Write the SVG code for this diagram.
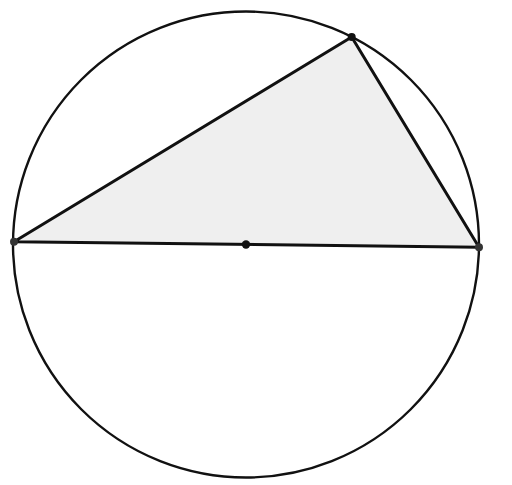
<svg xmlns="http://www.w3.org/2000/svg" width="512" height="485" viewBox="0 0 512 485">
<style>
.c{fill:none;stroke:#111;stroke-width:2.4}
.t{fill:#efefef;stroke:#111;stroke-width:3;stroke-linejoin:round}
.p{fill:#333}
.o{fill:#111}
</style>
<rect width="512" height="485" fill="#fff"/>
<g id="circle"><circle class="c" cx="246" cy="244.5" r="233"/></g>
<g id="connectors"><polygon class="t" points="14,241.7 351.7,37 479,247.3"/></g>
<g id="A"><circle class="p" cx="14" cy="241.7" r="4"/></g>
<g id="B"><circle class="p" cx="479" cy="247.3" r="4"/></g>
<g id="C"><circle class="o" cx="351.7" cy="37" r="4"/></g>
<g id="O"><circle class="o" cx="246" cy="244.5" r="4.2"/></g>
</svg>
